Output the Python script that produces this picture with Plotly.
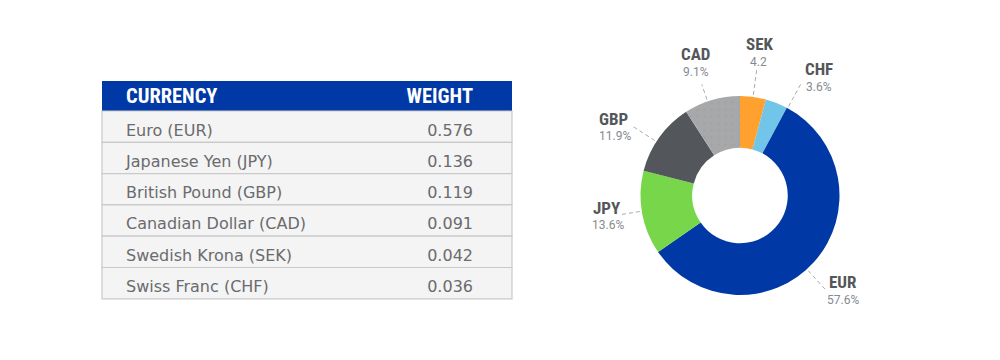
import math
import plotly.graph_objects as go

# ---------------- data ----------------
currency_names = ["Euro (EUR)", "Japanese Yen (JPY)", "British Pound (GBP)",
                  "Canadian Dollar (CAD)", "Swedish Krona (SEK)", "Swiss Franc (CHF)"]
weights = [0.576, 0.136, 0.119, 0.091, 0.042, 0.036]
header_labels = ["CURRENCY", "WEIGHT"]

pie_codes = ["SEK", "CHF", "EUR", "JPY", "GBP", "CAD"]
pie_values = [4.2, 3.6, 57.6, 13.6, 11.9, 9.1]
pie_pct_text = ["4.2", "3.6%", "57.6%", "13.6%", "11.9%", "9.1%"]

# ---------------- styles ----------------
PAGE_OFF = 8               # default body margin of the html page
W, H = 1000 - 2 * PAGE_OFF, 360 - 2 * PAGE_OFF
BLUE = "#0039A6"
slice_colors = ["#FFA12F", "#71C5E8", BLUE, "#78D64B", "#53565A", "#A7A8AA"]
slice_patterns = ["", "", "", "", "", "."]

TXT = "#6a6b6e"
ROW_FILL = "#f4f4f4"
ROW_LINE = "#c9c9c9"
COND_BOLD = "Liberation Sans Narrow, Roboto Condensed, Roboto, sans-serif"
BODY = "DejaVu Sans, sans-serif"
PCT = "Roboto, sans-serif"

# table geometry (page pixels)
TX0, TX1 = 102, 512
HEAD_TOP, HEAD_BOT = 81, 111
ROW_H = 31.3

# donut geometry (page pixels)
CX, CY, R_OUT = 740, 195.5, 99.5
ang_adj = [0, 7, 6, 1, -3, -2.6]
lead_len = [29, 30, 27, 22, 27, 18]
lab_off = [(3, -24), (17, -13), (18, -7), (-13, -7), (-20, -8), (-6, -30)]
pct_off = [(2, -6), (17, 5), (18, 11), (-12, 10), (-19, 9), (-6, -12)]


def px(x):
    return (x - PAGE_OFF) / W


def py(y):
    return 1 - (y - PAGE_OFF) / H


fig = go.Figure()

# ---------------- table ----------------
n_rows = len(currency_names)
fig.add_trace(go.Table(
    domain=dict(x=[px(118), px(482)], y=[py(340), py(75.5)]),
    columnwidth=[260, 104],
    header=dict(
        values=[f"<b>{h}</b>" for h in header_labels],
        align=["left", "right"],
        fill_color="rgba(0,0,0,0)",
        line=dict(color="rgba(0,0,0,0)", width=0),
        font=dict(family=COND_BOLD, size=20.5, color="white"),
        height=31,
    ),
    cells=dict(
        values=[currency_names, [f"{w:.3f}" for w in weights]],
        align=["left", "right"],
        fill_color="rgba(0,0,0,0)",
        line=dict(color="rgba(0,0,0,0)", width=0),
        font=dict(family=BODY, size=16, color=TXT),
        height=ROW_H,
    ),
))

shapes = []
# header background
shapes.append(dict(type="rect", xref="paper", yref="paper", layer="below",
                   x0=px(TX0), x1=px(TX1), y0=py(HEAD_BOT), y1=py(HEAD_TOP),
                   fillcolor=BLUE, line=dict(width=0)))
# rows
for i in range(n_rows):
    y0 = HEAD_BOT + i * ROW_H
    shapes.append(dict(type="rect", xref="paper", yref="paper", layer="below",
                       x0=px(TX0), x1=px(TX1), y0=py(y0 + ROW_H), y1=py(y0),
                       fillcolor=ROW_FILL, line=dict(color=ROW_LINE, width=1.2)))

# ---------------- donut ----------------
fig.add_trace(go.Pie(
    labels=pie_codes,
    values=pie_values,
    sort=False,
    direction="clockwise",
    rotation=0,
    hole=0.48,
    textinfo="none",
    hoverinfo="label+percent",
    marker=dict(colors=slice_colors, line=dict(width=0),
                pattern=dict(shape=slice_patterns, fgcolor="#96989a",
                             size=7, solidity=0.07, fillmode="overlay")),
    domain=dict(x=[px(CX - R_OUT), px(CX + R_OUT)], y=[py(CY + R_OUT), py(CY - R_OUT)]),
    showlegend=False,
))

annotations = []
total = sum(pie_values)
cum = 0.0
for i, (code, v) in enumerate(zip(pie_codes, pie_values)):
    mid = (cum + v / 2) / total * 360 + ang_adj[i]
    cum += v
    a = math.radians(mid)
    r0, r1 = R_OUT + 2, R_OUT + lead_len[i]
    x0, y0 = CX + r0 * math.sin(a), CY - r0 * math.cos(a)
    x1, y1 = CX + r1 * math.sin(a), CY - r1 * math.cos(a)
    shapes.append(dict(type="line", xref="paper", yref="paper",
                       x0=px(x0), y0=py(y0), x1=px(x1), y1=py(y1),
                       line=dict(color="#a9abae", width=1, dash="4px,3px")))
    annotations.append(dict(xref="paper", yref="paper", showarrow=False,
                            x=px(x1 + lab_off[i][0]), y=py(y1 + lab_off[i][1]),
                            xanchor="center", yanchor="middle", borderpad=0,
                            text=f"<b>{code}</b>",
                            font=dict(family=COND_BOLD, size=17, color="#54575a")))
    annotations.append(dict(xref="paper", yref="paper", showarrow=False,
                            x=px(x1 + pct_off[i][0]), y=py(y1 + pct_off[i][1]),
                            xanchor="center", yanchor="middle", borderpad=0,
                            text=pie_pct_text[i],
                            font=dict(family=PCT, size=12, color="#868a91")))

fig.update_layout(
    width=W, height=H,
    margin=dict(l=0, r=0, t=0, b=0),
    paper_bgcolor="white",
    plot_bgcolor="white",
    shapes=shapes,
    annotations=annotations,
    showlegend=False,
)

fig.write_html("out.html")
